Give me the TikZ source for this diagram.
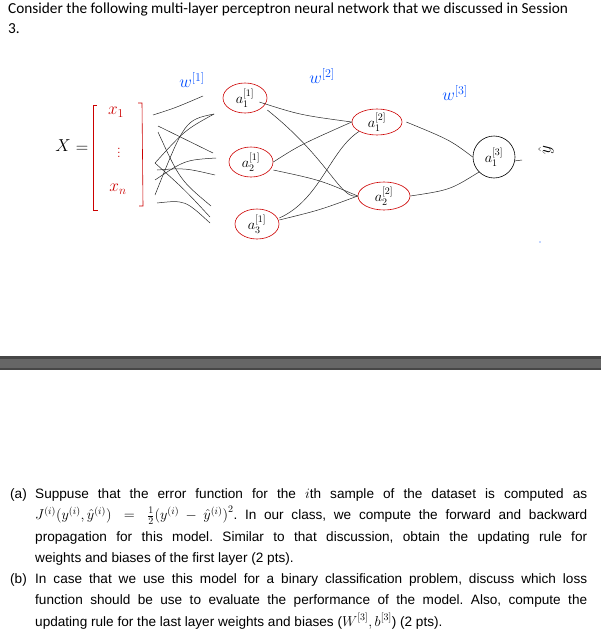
\documentclass[tikz,border=0pt]{standalone}
\usepackage{fontspec}
\setmainfont{Liberation Sans}
\newfontfamily\titlefont{Carlito}
\usetikzlibrary{shapes.geometric}
\frenchspacing
\begin{document}
\begin{tikzpicture}[x=1pt,y=-1pt,
  red1/.style={draw=red!80!black,line width=0.6pt},
  wire/.style={draw=black!85,line width=0.5pt},
  hand/.style={font=\fontsize{17}{17}\selectfont},
  neur/.style={font=\fontsize{14}{14}\selectfont},
  txt/.style={anchor=north west,inner sep=0pt,font=\fontsize{13.6}{21.5}\selectfont,text width=552pt,align=justify}]
\useasboundingbox (0,0) rectangle (601,642);
\node[anchor=north west,inner sep=0pt,font=\titlefont\fontsize{15.3}{20}\selectfont,align=left] (title) at (8,3)
 {Consider the following multi-layer perceptron neural network that we discussed in Session\\3.};
% inputs
\node[hand] (X) at (63,146) {$X$};
\node[hand] (eq) at (82,149) {$=$};
\draw[red1] (97,105) -- (93,105) -- (93,210) -- (98,210);
\draw[red1] (138,103) -- (142,103) -- (143,206) -- (139,206);
\node[hand,text=red!80!black] (x1) at (116,112) {$x_{1}$};
\node[text=red!80!black,inner sep=0pt,font=\fontsize{11}{11}\selectfont] (dots) at (119,150) {$\vdots$};
\node[hand,text=red!80!black] (xn) at (118,189) {$x_n$};
% weights
\node[hand,text=blue!70!cyan] (w1) at (192,80) {$w^{[1]}$};
\node[hand,text=blue!70!cyan] (w2) at (322,76) {$w^{[2]}$};
\node[hand,text=blue!70!cyan] (w3) at (455,93) {$w^{[3]}$};
% neurons
\node[red1,neur,ellipse,draw,minimum width=44pt,minimum height=30pt,inner sep=0pt] (a11) at (245,98) {$a_1^{[1]}$};
\node[red1,neur,ellipse,draw,minimum width=44pt,minimum height=30pt,inner sep=0pt] (a21) at (251,162) {$a_2^{[1]}$};
\node[red1,neur,ellipse,draw,minimum width=44pt,minimum height=30pt,inner sep=0pt] (a31) at (257,224) {$a_3^{[1]}$};
\node[red1,neur,ellipse,draw,minimum width=50pt,minimum height=26pt,inner sep=0pt] (a12) at (377,122) {$a_1^{[2]}$};
\node[red1,neur,ellipse,draw,minimum width=52pt,minimum height=28pt,inner sep=0pt] (a22) at (384,196) {$a_2^{[2]}$};
\node[draw,neur,circle,minimum size=42pt,inner sep=0pt,line width=0.6pt] (a13) at (494,157) {$a_1^{[3]}$};
\node[hand,rotate=90] (yhat) at (546,150) {$\hat y$};
\coordinate (d1) at (514,161); \coordinate (d2) at (522,160);
\draw[wire] (d1) -- (d2);
\fill[blue!70!cyan] (540,242) circle (0.7);
% left wires
\coordinate (s1) at (153,115); \coordinate (s2) at (158,126); \coordinate (s3) at (155,163);
\coordinate (s4) at (157,170); \coordinate (s5) at (155,195); \coordinate (s6) at (157,203);
\coordinate (s7) at (158,132); \coordinate (s8) at (155,180);
\coordinate (e11) at (203,96); \coordinate (e12) at (214,114);
\coordinate (e21) at (213,153); \coordinate (e22) at (216,158); \coordinate (e23) at (215,175);
\coordinate (e31) at (211,206); \coordinate (e32) at (210,217); \coordinate (e33) at (210,223);
\draw[wire] (s1) .. controls (175,108) .. (e11);
\draw[wire] (s2) .. controls (185,140) .. (e21);
\draw[wire] (s7) .. controls (180,180) .. (e31);
\draw[wire] (s3) .. controls (185,130) .. (e12);
\draw[wire] (s4) .. controls (185,168) .. (e23);
\draw[wire] (s8) .. controls (185,160) .. (e22);
\draw[wire] (s5) .. controls (185,120) .. (e12);
\draw[wire] (s6) .. controls (185,200) .. (e33);
\draw[wire] (s3) .. controls (185,190) .. (e32);
% middle wires
\draw[wire] (a11.east) ++(0,12) .. controls (330,160) and (340,200) .. (a22.west);
\draw[wire] (a11.east) ++(-8,4) .. controls (300,115) .. (a12.west);
\draw[wire] (a21.east) .. controls (300,145) .. (a12.west);
\draw[wire] (a21.east) ++(0,8) .. controls (320,180) .. (a22.west);
\draw[wire] (a31.east) ++(0,-6) .. controls (320,200) and (330,150) .. (a12.south west);
\draw[wire] (a31.east) ++(0,-4) .. controls (320,210) .. (a22.west);
% right wires
\draw[wire] (a12.east) ++(4,0) .. controls (450,140) .. (a13.west);
\draw[wire] (a22.east) .. controls (450,190) .. (a13.south west);
% separator
\fill[black!72] (0,356) rectangle (601,370);
\fill[black!60] (0,359) rectangle (601,368);
% bottom text
\node[anchor=north west,inner sep=0pt,font=\fontsize{13.6}{21.5}\selectfont] (la) at (10,488) {(a)};
\node[txt] (ta) at (35,488) {Suppuse that the error function for the $i$th sample of the dataset is computed as\linebreak \fontsize{14}{21.5}\selectfont$J^{(i)}\bigl(y^{(i)},\hat y^{(i)}\bigr)=\frac12\bigl(y^{(i)}-\hat y^{(i)}\bigr)^2$\fontsize{13.6}{21.5}\selectfont. In our class, we compute the forward and backward\linebreak propagation for this model. Similar to that discussion, obtain the updating rule for\linebreak weights and biases of the first layer (2 pts).};
\node[anchor=north west,inner sep=0pt,font=\fontsize{13.6}{21.5}\selectfont] (lb) at (10,573) {(b)};
\node[txt] (tb) at (35,573) {In case that we use this model for a binary classification problem, discuss which loss\linebreak function should be use to evaluate the performance of the model. Also, compute the\linebreak updating rule for the last layer weights and biases ($W^{[3]},b^{[3]}$) (2 pts).};
\end{tikzpicture}
\end{document}
